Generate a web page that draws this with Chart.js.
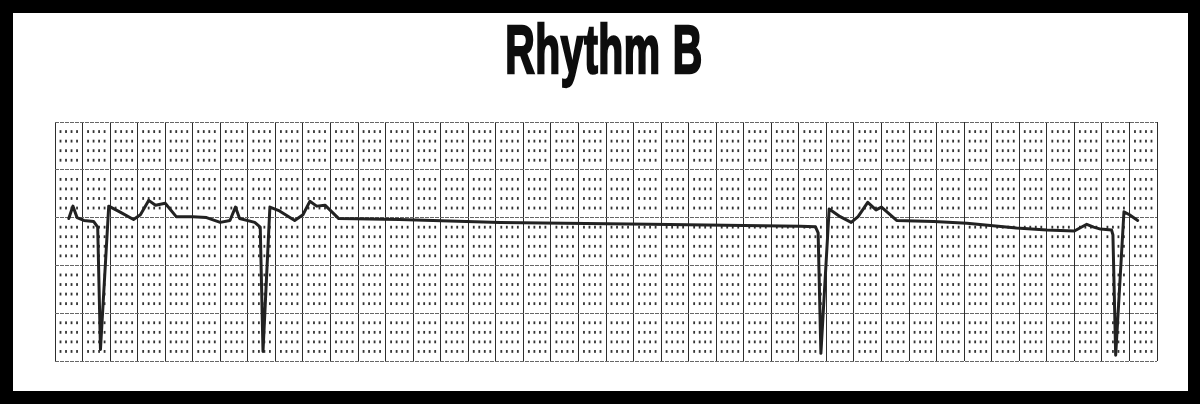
<!DOCTYPE html>
<html>
<head>
<meta charset="utf-8">
<script src="https://cdn.jsdelivr.net/npm/chart.js@4.4.0/dist/chart.umd.min.js"></script>
<style>
  html, body { margin: 0; padding: 0; background: #000; }
  body { width: 1200px; height: 404px; position: relative; overflow: hidden; }
  #paper { position: absolute; left: 13px; top: 13px; width: 1175px; height: 378px; background: #fff; }
  #title { position: absolute; left: 4px; top: 15px; width: 1200px; text-align: center;
           font-family: "Liberation Sans", Arial, sans-serif; font-weight: bold; font-size: 68px;
           line-height: 68px; color: #0d0d0d; transform: scaleX(0.6); transform-origin: 50% 50%;
           -webkit-text-stroke: 2.6px #0d0d0d; letter-spacing: 1px; }
  #wrap { position: absolute; left: 45px; top: 112px; width: 1122px; height: 259px; }
</style>
</head>
<body>
<div id="paper"></div>
<div id="title">Rhythm B</div>
<div id="wrap"><canvas id="c"></canvas></div>
<script>
// time in seconds (25 mm/s paper, big box = 0.2 s)
const timeSec = [
  0.10, 0.13, 0.16, 0.21, 0.28, 0.31, 0.33, 0.39, 0.47, 0.57, 0.62, 0.68, 0.73, 0.80, 0.88,
  1.00, 1.10, 1.20, 1.27, 1.31, 1.34, 1.45, 1.49, 1.51, 1.56, 1.63, 1.74, 1.80, 1.85, 1.90, 1.96, 2.06,
  2.50, 3.23, 4.32, 5.41, 5.52, 5.54, 5.56, 5.62, 5.70, 5.78, 5.83, 5.90, 5.96, 6.00, 6.11,
  6.38, 6.62, 6.98, 7.20, 7.40, 7.49, 7.54, 7.59, 7.67, 7.68, 7.70, 7.76, 7.80, 7.86
];
// amplitude in mV (big box = 0.5 mV)
const voltage = [
  -0.01, 0.12, 0.00, -0.03, -0.04, -0.10, -1.38, 0.12, 0.06, -0.02, 0.03, 0.18, 0.13, 0.15, 0.01,
  0.01, 0.00, -0.05, -0.03, 0.11, -0.01, -0.05, -0.10, -1.40, 0.11, 0.07, -0.03, 0.03, 0.17, 0.12, 0.13, -0.01,
  -0.02, -0.05, -0.07, -0.09, -0.095, -0.16, -1.42, 0.09, 0.01, -0.05, 0.01, 0.16, 0.08, 0.11, -0.03,
  -0.04, -0.06, -0.11, -0.13, -0.14, -0.07, -0.10, -0.12, -0.13, -0.18, -1.44, 0.06, 0.03, -0.03
];
const xRange = [0, 8];       // seconds
const yRange = [-1.5, 1.0];  // mV
const bigStepX = 0.2, bigStepY = 0.5, subDiv = 5;

const points = timeSec.map((t, i) => ({ x: t, y: voltage[i] }));

const dotGrid = {
  id: 'dotGrid',
  beforeDatasetsDraw(chart) {
    const { ctx, scales: { x, y } } = chart;
    ctx.save();
    ctx.fillStyle = '#333';
    const nx = Math.round((xRange[1] - xRange[0]) / bigStepX) * subDiv;
    const ny = Math.round((yRange[1] - yRange[0]) / bigStepY) * subDiv;
    for (let i = 1; i < nx; i++) {
      if (i % subDiv === 0) continue;
      const px = x.getPixelForValue(xRange[0] + i * bigStepX / subDiv);
      for (let j = 1; j < ny; j++) {
        if (j % subDiv === 0) continue;
        const py = y.getPixelForValue(yRange[0] + j * bigStepY / subDiv);
        ctx.fillRect(px - 0.9, py - 1.4, 1.8, 2.8);
      }
    }
    ctx.restore();
  }
};

new Chart(document.getElementById('c'), {
  type: 'line',
  data: {
    datasets: [{
      data: points,
      borderColor: '#222',
      borderWidth: 3,
      pointRadius: 0,
      tension: 0,
      borderJoinStyle: 'round',
      borderCapStyle: 'round',
      fill: false
    }]
  },
  options: {
    responsive: true,
    maintainAspectRatio: false,
    animation: false,
    layout: { padding: 10 },
    plugins: { legend: { display: false }, tooltip: { enabled: false }, title: { display: false } },
    scales: {
      x: {
        type: 'linear', min: xRange[0], max: xRange[1],
        ticks: { display: false, stepSize: bigStepX },
        grid: { color: '#2e2e2e', lineWidth: 1, drawTicks: false },
        border: { display: false }
      },
      y: {
        type: 'linear', min: yRange[0], max: yRange[1],
        ticks: { display: false, stepSize: bigStepY },
        grid: { color: '#666', lineWidth: 1, drawTicks: false },
        border: { display: false, dash: [4, 1] }
      }
    }
  },
  plugins: [dotGrid]
});
</script>
</body>
</html>
